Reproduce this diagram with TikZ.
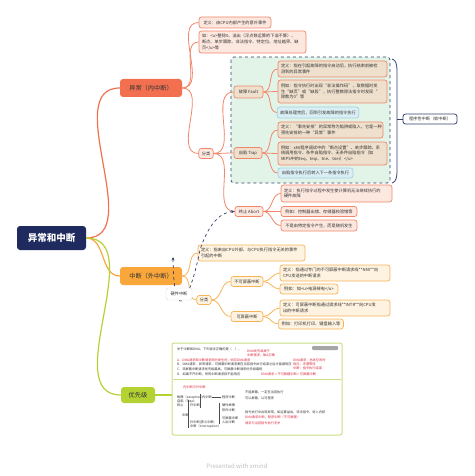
\documentclass[tikz,border=0pt]{standalone}
\usepackage{fontspec}
\setmainfont{Noto Sans CJK SC}
\usetikzlibrary{arrows.meta}
\definecolor{rootcolor}{RGB}{31, 43, 94}
\definecolor{exccolor}{RGB}{242, 112, 80}
\definecolor{exclight}{RGB}{253, 232, 224}
\definecolor{excline}{RGB}{240, 134, 106}
\definecolor{beigefill}{RGB}{239, 224, 205}
\definecolor{bluefill}{RGB}{218, 238, 244}
\definecolor{blueline}{RGB}{160, 210, 228}
\definecolor{areafill}{RGB}{226, 244, 232}
\definecolor{navycolor}{RGB}{52, 66, 110}
\definecolor{intcolor}{RGB}{249, 166, 58}
\definecolor{intlight}{RGB}{254, 242, 224}
\definecolor{intline}{RGB}{246, 180, 88}
\definecolor{prioritycolor}{RGB}{181, 210, 52}
\definecolor{quizline}{RGB}{200, 224, 130}
\definecolor{textcolor}{RGB}{51, 51, 51}
\definecolor{notecolor}{RGB}{220, 40, 60}
\definecolor{footcolor}{RGB}{190, 190, 190}
\tikzset{
rootnode/.style={
  rectangle,
  rounded corners=3pt,
  fill=rootcolor,
  text=white,
  font=\fontsize{9.5}{11}\selectfont\bfseries,
  minimum width=69pt,
  minimum height=24pt
},
mainnode/.style={
  rectangle,
  rounded corners=3pt,
  fill=#1,
  text=textcolor,
  font=\fontsize{6.2}{7}\selectfont,
  minimum width=62pt,
  minimum height=18pt
},
leafnode/.style={
  rectangle,
  rounded corners=2.5pt,
  line width=0.7pt,
  inner xsep=3pt,
  inner ysep=2pt,
  align=left,
  text=textcolor,
  font=\fontsize{4.2}{5.6}\selectfont
},
excleaf/.style={leafnode, draw=excline, fill=exclight},
arealeaf/.style={leafnode, draw=excline, fill=beigefill},
blueleaf/.style={leafnode, draw=blueline, fill=bluefill},
intleaf/.style={leafnode, draw=intline, fill=intlight},
excbranch/.style={draw=excline, line width=0.8pt},
intbranch/.style={draw=intline, line width=0.8pt},
quiztext/.style={
  anchor=west,
  inner sep=0pt,
  text=black!80,
  align=left,
  font=\fontsize{3.2}{3.9}\selectfont
},
quiznote/.style={quiztext, text=notecolor}
}

\begin{document}
\begin{tikzpicture}[x=1pt, y=-1pt]
\useasboundingbox (0,0) rectangle (474,476);

% area of program interrupts
\draw[fill=areafill, draw=navycolor, dashed, line width=0.7pt, rounded corners=3pt]
  (231,57) rectangle (390,183);
\draw[navycolor, line width=0.8pt]
  (392,59) .. controls (396,60) and (397,64) .. (397,72) -- (397,170)
  .. controls (397,178) and (396,182) .. (392,183);

% root and main topics
\node[rootnode] (root) at (51.5,238) {异常和中断};
\node[mainnode=exccolor] (exc) at (151,88) {异常（内中断）};
\node[mainnode=intcolor] (intr) at (151,276) {中断（外中断）};
\node[mainnode=prioritycolor, minimum width=34pt, minimum height=16pt] (prio) at (138,395) {优先级};

% exceptions
\node[excleaf, minimum width=72pt, minimum height=11pt] (excdef) at (235,22.5) {定义：由CPU内部产生的意外事件};
\node[excleaf, text width=101pt, minimum height=22pt] (excex) at (252.5,42)
  {如：<u>整除0、溢出（浮点数运算的下溢不算）、\\断点、单步跟踪、非法指令、特定位、地址越界、缺\\页</u>等};
\node[excleaf, minimum width=14pt, minimum height=10pt] (exccls) at (206,153.5) {分类};

\node[arealeaf, minimum width=29pt, minimum height=12pt] (fault) at (248.5,92) {故障 Fault};
\node[arealeaf, text width=103pt, minimum height=16pt] (faultdef) at (332.5,69)
  {定义：指在引起故障的指令启动后，执行结束前被检\\测到的异常事件};
\node[arealeaf, text width=103pt, minimum height=23pt] (faultex) at (332.5,91.5)
  {例如：指令执行时出现“非法操作码”，取数据时发\\生“缺页”或“缺段”，执行整数除法指令时发现“\\除数为0”等};
\node[blueleaf, minimum width=80pt, minimum height=11pt] (faultret) at (318,112.5) {故障处理完后，回到引发故障的指令执行};

\node[arealeaf, minimum width=28pt, minimum height=11pt] (trap) at (248,153) {自陷 Trap};
\node[arealeaf, text width=99pt, minimum height=16pt] (trapdef) at (330.5,130)
  {定义：“事先安排”的异常称为陷阱或陷入，它是一种\\预先安排的一种“异常”事件};
\node[arealeaf, text width=103pt, minimum height=23pt] (trapex) at (332.5,153.5)
  {例如：x86程序调试中的“断点设置”、单步跟踪、系\\统调用指令、条件自陷指令、无条件自陷指令（如\\MIPS中的teq、teqi、tne、tnei）</u>};
\node[blueleaf, minimum width=75pt, minimum height=10pt] (trapret) at (315.5,173) {自陷指令执行后转入下一条指令执行};

\node[excleaf, minimum width=28pt, minimum height=10pt] (abort) at (249,211.5) {终止 Abort};
\node[excleaf, text width=105pt, minimum height=17pt] (abortdef) at (336.5,193.5)
  {定义：执行指令过程中发生使计算机无法继续执行的\\硬件故障};
\node[excleaf, minimum width=76pt, minimum height=10pt] (abortex) at (319,211.5) {例如：控制器出错、存储器校验错等};
\node[excleaf, minimum width=76pt, minimum height=11pt] (abortrnd) at (319,225.5) {不是由特定指令产生，而是随机发生};

\node[leafnode, draw=navycolor, fill=white, line width=0.8pt, minimum width=54pt, minimum height=10pt] (soft) at (430,119) {程序性中断（软中断）};

% interrupts
\node[intleaf, text width=101pt, minimum height=16pt] (intdef) at (251.5,253)
  {定义：指来自CPU外部、与CPU执行指令无关的事件\\引起的中断};
\node[intleaf, minimum width=13pt, minimum height=9pt] (intcls) at (204,300) {分类};
\node[intleaf, minimum width=32pt, minimum height=10pt] (nmi) at (247,281.5) {不可屏蔽中断};
\node[intleaf, minimum width=32pt, minimum height=10pt] (mi) at (247,316.5) {可屏蔽中断};
\node[intleaf, text width=104pt, minimum height=16pt] (nmidef) at (335,273)
  {定义：指通过专门的不可屏蔽中断请求线**NMI**向\\CPU发送的中断请求};
\node[intleaf, minimum width=58pt, minimum height=10pt] (nmiex) at (309,289) {例如：如<u>电源掉电</u>};
\node[intleaf, text width=104pt, minimum height=16pt] (midef) at (335,308)
  {定义：可屏蔽中断指通过请求线**INTR**向CPU发\\出的中断请求};
\node[intleaf, minimum width=62pt, minimum height=10pt] (miex) at (311,324) {例如：打印机打印、键盘输入等};

% branches
\draw[exccolor, line width=1.2pt] (root.east) to[out=0, in=180] (exc.west);
\draw[intcolor, line width=1.2pt] (root.east) to[out=0, in=180] (intr.west);
\draw[prioritycolor, line width=1.2pt] (root.east) to[out=0, in=180] (prio.west);

\draw[excbranch] (exc.east) to[out=0, in=180] (excdef.west);
\draw[excbranch] (exc.east) to[out=0, in=180] (excex.west);
\draw[excbranch] (exc.east) to[out=0, in=180] (exccls.west);
\draw[excbranch] (exccls.east) to[out=0, in=180] (fault.west);
\draw[excbranch] (exccls.east) to[out=0, in=180] (trap.west);
\draw[excbranch] (exccls.east) to[out=0, in=180] (abort.west);
\draw[excbranch] (fault.east) to[out=0, in=180] (faultdef.west);
\draw[excbranch] (fault.east) to[out=0, in=180] (faultex.west);
\draw[excbranch] (fault.east) to[out=0, in=180] (faultret.west);
\draw[excbranch] (trap.east) to[out=0, in=180] (trapdef.west);
\draw[excbranch] (trap.east) to[out=0, in=180] (trapex.west);
\draw[excbranch] (trap.east) to[out=0, in=180] (trapret.west);
\draw[excbranch] (abort.east) to[out=0, in=180] (abortdef.west);
\draw[excbranch] (abort.east) to[out=0, in=180] (abortex.west);
\draw[excbranch] (abort.east) to[out=0, in=180] (abortrnd.west);

\draw[intbranch] (intr.east) to[out=0, in=180] (intdef.west);
\draw[intbranch] (intr.east) to[out=0, in=180] (intcls.west);
\draw[intbranch] (intcls.east) to[out=0, in=180] (nmi.west);
\draw[intbranch] (intcls.east) to[out=0, in=180] (mi.west);
\draw[intbranch] (nmi.east) to[out=0, in=180] (nmidef.west);
\draw[intbranch] (nmi.east) to[out=0, in=180] (nmiex.west);
\draw[intbranch] (mi.east) to[out=0, in=180] (midef.west);
\draw[intbranch] (mi.east) to[out=0, in=180] (miex.west);

\coordinate (brk) at (397,119);
\draw[navycolor, line width=0.8pt] (brk) -- (soft.west);

% relation: hardware interrupt
\coordinate (reltop) at (173,257);
\draw[navycolor, dashed, line width=0.7pt,
  {Stealth[length=3.5pt, width=3pt]}-{Stealth[length=3.5pt, width=3pt]}]
  (reltop) .. controls (174,330) and (190,300) .. (200,250)
  .. controls (208,225) and (220,212) .. (abort.west);
\node[leafnode, draw=black!15, fill=white, line width=0.4pt, minimum width=26pt, minimum height=12pt] (hwint) at (179,294) {硬件中断};

% priority: quiz picture
\node[draw=quizline, line width=1pt, fill=white, rounded corners=2pt,
  minimum width=170pt, minimum height=92pt] (quiz) at (257,389) {};
\draw[prioritycolor, line width=1.2pt] (prio.east) -- (prio.east -| quiz.west);

\node[quiztext] (q1) at (177,349) {关于中断和DMA，下列说法正确的是（　）。};
\node[quiznote] (q2) at (247,353) {DMA优先级高于\\中断请求，故A正确};
\node[quiznote] (qa) at (177,360) {A．DMA请求和中断请求同时发生时，响应DMA请求};
\node[quiztext] (qb) at (177,364.5) {B．DMA请求、异常请求、可屏蔽中断请求都在当前指令执行结束之后才能被响应};
\node[quiztext] (qc) at (177,369.5) {C．非屏蔽中断请求优先级最高，可屏蔽中断请求优先级最低};
\node[quiztext] (qd) at (177,374) {D．如果不开中断，所有中断请求就不能响应};
\node[quiznote] (q3) at (293,364) {DMA请求：总线空闲时\\响应，无需等待\\中断：指令执行结束};
\node[quiznote] (q4) at (261,374.5) {DMA请求 > 不可屏蔽中断 > 可屏蔽中断};
\fill[black!35, rounded corners=1pt] (312,346) rectangle (338,350);
\draw[quizline, line width=0.5pt] (173,379) -- (341,379);

\node[quiznote] (q5) at (183,387) {内中断与外中断};
\node[quiztext] (t1) at (177,397) {故障（exception）};
\node[quiztext] (t2) at (202,397) {内中断};
\node[quiztext] (t3) at (222,397) {程序中断};
\node[quiztext] (t4) at (177,401) {自陷（Trap）};
\node[quiztext] (t5) at (177,405) {终止};
\node[quiztext] (t6) at (190,405) {外中断};
\node[quiztext] (t7) at (222,405) {硬件故障};
\node[quiztext] (t8) at (222,410) {软件中断};
\node[quiztext] (t9) at (182,415) {中断};
\node[quiztext] (t10) at (222,418) {可屏蔽中断};
\node[quiztext] (t11) at (190,422) {外中断(狭义中断)};
\node[quiztext] (t12) at (222,422) {入出中断};
\node[quiztext] (t13) at (190,426) {中断（interruption）};
\node[quiztext] (t14) at (245,392) {不能屏蔽，一定在当前执行};
\node[quiztext] (t15) at (245,398) {可以屏蔽，认可程序};
\node[quiztext] (t16) at (245,412) {指令执行中出现异常，如运算溢出、非法指令、进入内核};
\node[quiznote] (t17) at (245,417) {DMA请求中断，程序中断（不可屏蔽）};
\node[quiznote] (t18) at (245,423) {请求与当前指令执行无关};
\draw[black!70, line width=0.3pt] (212,397) -- (221,397);
\draw[black!70, line width=0.3pt] (200,394) -- (200,408);
\draw[black!70, line width=0.3pt] (219,403) -- (219,424);
\draw[black!70, line width=0.3pt] (188,400) -- (188,428);

% footer
\node[text=footcolor, font=\fontsize{6}{7}\selectfont] (foot) at (237,466) {Presented with xmind};
\end{tikzpicture}
\end{document}
